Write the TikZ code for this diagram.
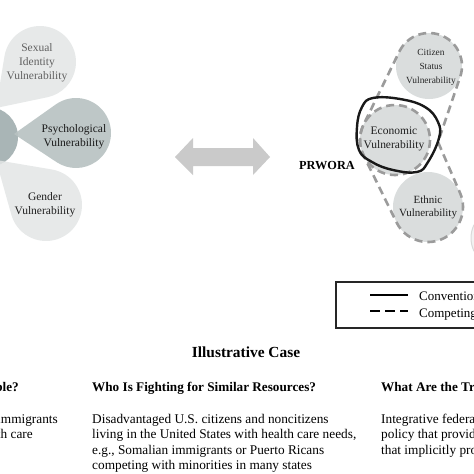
\documentclass[tikz,border=0pt]{standalone}
\usepackage{fontspec}
\setmainfont{Liberation Serif}
\definecolor{petal}{HTML}{E3E6E6}
\definecolor{psych}{HTML}{B8C2C2}
\definecolor{core}{HTML}{A9B5B6}
\definecolor{circ}{HTML}{DADDDD}
\definecolor{hull}{HTML}{9B9B9B}
\definecolor{arrowgray}{HTML}{CACACA}
\begin{document}
\begin{tikzpicture}[x=1pt,y=-1pt,
  lbl/.style={align=center, inner sep=0pt, font=\fontsize{11.5}{14}\selectfont},
  body/.style={anchor=base west, inner sep=0pt, font=\fontsize{13.3}{15.4}\selectfont},
  head/.style={anchor=base west, inner sep=0pt, font=\fontsize{13.2}{15}\selectfont\bfseries},
  hullline/.style={draw=hull, line width=2.6pt, dash pattern=on 8pt off 5pt},
  petalfill/.style={fill=petal, fill opacity=0.85},
]
\useasboundingbox (0,0) rectangle (474,474);
\clip (0,0) rectangle (474,474);
\fill[white] (0,0) rectangle (474,474);

% left cluster
\fill[core] (-12,137) circle[radius=30];
\fill[petalfill] (-4,108) -- ([shift={(40,62)}]189.3:36) arc[start angle=189.3, end angle=438.1, radius=36] -- cycle;
\fill[petalfill] (-4,160) -- ([shift={(46,205)}]279.7:36) arc[start angle=279.7, end angle=524.3, radius=36] -- cycle;
\fill[psych, fill opacity=0.9] (14,134) -- ([shift={(76,133)}]234.7:35) arc[start angle=234.7, end angle=483.5, radius=35] -- cycle;

\node[lbl, text=black!62] (sexual) at (37,63) {Sexual\\Identity\\Vulnerability};
\node[lbl, text=black!90] (psychl) at (74,137) {Psychological\\Vulnerability};
\node[lbl, text=black!88] (gender) at (45,205) {Gender\\Vulnerability};

% double arrow
\fill[arrowgray] (175,157) -- (193,138) -- (193,148) -- (253,148) -- (253,138) -- (270,157) -- (253,175) -- (253,166) -- (193,166) -- (193,175) -- cycle;

% right cluster
\fill[black!5] (501,238) circle[radius=30];
\draw[black!15, line width=1pt] (501,238) circle[radius=30];
\fill[circ] (429,66) circle[radius=33];
\fill[circ] (395,140) circle[radius=35];
\fill[circ] (428,207) circle[radius=35];

\draw[hullline] ([shift={(429,66)}]206.1:33) arc[start angle=206.1, end angle=378.8, radius=33]
  -- (438,142) -- ([shift={(428,207)}]-23.35:35) arc[start angle=-23.35, end angle=153.8, radius=35]
  -- ([shift={(395,140)}]153.8:35) arc[start angle=153.8, end angle=206.1, radius=35] -- cycle;
\draw[hullline] (395,140) circle[radius=35];

\draw[line width=2.4pt, black!90] plot[smooth cycle, tension=0.7] coordinates
  {(373,98) (400,99) (425,107) (438,122) (439,138) (428,162) (417,172) (393,170) (372,162) (359,150) (357,127) (362,107)};

\node[lbl, font=\fontsize{9.4}{14}\selectfont, text=black!85] (citizen) at (431,67) {Citizen\\Status\\Vulnerability};
\node[lbl, text=black!88] (economic) at (394,139) {Economic\\Vulnerability};
\node[lbl, font=\fontsize{11}{13.5}\selectfont, text=black!88] (ethnic) at (428,207.5) {Ethnic\\Vulnerability};
\node[inner sep=0pt, font=\fontsize{12.3}{14}\selectfont\bfseries] (prwora) at (327,166) {PRWORA};

% legend
\draw[line width=1.2pt, black!85] (336,282) rectangle (490,328);
\coordinate (s1) at (370,295); \coordinate (s2) at (408,295);
\draw[line width=2.6pt] (s1) -- (s2);
\coordinate (d1) at (370,311); \coordinate (d2) at (408,311);
\draw[line width=2.6pt, dash pattern=on 10pt off 5pt] (d1) -- (d2);
\node[body, font=\fontsize{13}{15}\selectfont] (conv) at (419,300) {Conventional Vulnerability};
\node[body, font=\fontsize{13}{15}\selectfont] (comp) at (419,317) {Competing Vulnerability};

% bottom text
\node[anchor=base, inner sep=0pt, font=\fontsize{15.4}{18}\selectfont\bfseries] (title) at (246,357) {Illustrative Case};
\node[head, anchor=base east] (h1) at (19,391) {Who Is Vulnerable?};
\node[head] (h2) at (92,391) {Who Is Fighting for Similar Resources?};
\node[head] (h3) at (381,391) {What Are the Tradeoffs?};

\node[body, anchor=base east] (l1) at (58,423) {immigrants};
\node[body, anchor=base east] (l2) at (33,438) {health care};

\node[body] (m1) at (92,423) {Disadvantaged U.S. citizens and noncitizens};
\node[body] (m2) at (92,438.5) {living in the United States with health care needs,};
\node[body] (m3) at (92,454) {e.g., Somalian immigrants or Puerto Ricans};
\node[body] (m4) at (92,469.5) {competing with minorities in many states};

\node[body] (r1) at (381,423) {Integrative federal};
\node[body] (r2) at (381,438.5) {policy that provides};
\node[body] (r3) at (381,454) {that implicitly promotes};
\end{tikzpicture}
\end{document}
